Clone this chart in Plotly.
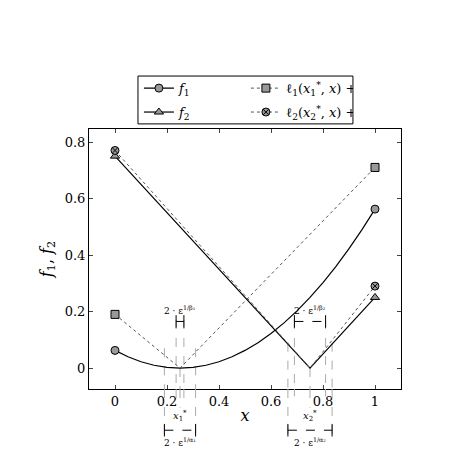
import plotly.graph_objects as go

# sampled curves
xs = [0, 0.05, 0.1, 0.15, 0.2, 0.25, 0.3, 0.35, 0.4, 0.45, 0.5, 0.55, 0.6, 0.65, 0.7, 0.75, 0.8, 0.85, 0.9, 0.95, 1]
f1 = [0.0625, 0.04, 0.0225, 0.01, 0.0025, 0, 0.0025, 0.01, 0.0225, 0.04, 0.0625, 0.09, 0.1225, 0.16, 0.2025, 0.25, 0.3025, 0.36, 0.4225, 0.49, 0.5625]
f2_x = [0, 0.75, 1]
f2 = [0.75, 0, 0.25]
l1_x = [0, 0.25, 1]
l1 = [0.19, 0, 0.71]
l2_x = [0, 0.75, 1]
l2 = [0.77, 0, 0.29]

# guide lines: (x, y_top, y_bottom)
guides = [(0.19, 0.07, -0.25), (0.31, 0.07, -0.25), (0.235, 0.17, -0.12), (0.265, 0.17, -0.12),
          (0.665, 0.09, -0.25), (0.835, 0.09, -0.25), (0.69, 0.17, -0.1), (0.81, 0.17, -0.1),
          (0.75, 0, -0.14), (0.25, 0, -0.14)]
spans = [(0.19, 0.31, -0.22), (0.235, 0.265, 0.165), (0.665, 0.835, -0.22), (0.69, 0.81, 0.165)]
span_labels = ["2 · ε<sup>1/α₁</sup>", "2 · ε<sup>1/β₁</sup>", "2 · ε<sup>1/α₂</sup>", "2 · ε<sup>1/β₂</sup>"]
span_label_y = [-0.262, 0.205, -0.262, 0.205]
ymin, ylow = -0.074, -0.283

fig = go.Figure()
gray = "#999999"
gl = dict(color="#aaaaaa", width=1, dash="dash")
for x, yt, yb in guides:
    fig.add_trace(go.Scatter(x=[x, x], y=[yt, ymin], mode="lines", showlegend=False, line=gl))
    fig.add_trace(go.Scatter(x=[x, x], y=[ymin, yb], mode="lines", showlegend=False, line=gl,
                             xaxis="x2", yaxis="y2"))
for (a, b, y), lab, ly in zip(spans, span_labels, span_label_y):
    ya = "y2" if y < ymin else "y"
    fig.add_trace(go.Scatter(x=[a, b], y=[y, y], mode="lines+markers", showlegend=False,
                             xaxis="x2" if ya == "y2" else "x", yaxis=ya,
                             line=dict(color="black", width=1, dash="dash"),
                             marker=dict(symbol="line-ns", size=9, line=dict(width=1, color="black"))))
    fig.add_annotation(x=(a + b) / 2, y=ly, text=lab, showarrow=False, xref="x", yref=ya,
                       font=dict(size=9, family="DejaVu Serif"))

ln = dict(color="black", width=1.2)
dl = dict(color="#555555", width=1, dash="dot")
mk = lambda s: dict(symbol=s, size=8, color=gray, line=dict(color="black", width=1))

fig.add_trace(go.Scatter(x=xs, y=f1, mode="lines", line=ln, showlegend=False))
fig.add_trace(go.Scatter(x=[xs[0], xs[-1]], y=[f1[0], f1[-1]], mode="markers", marker=mk("circle"), showlegend=False, cliponaxis=False))
fig.add_trace(go.Scatter(x=l1_x, y=l1, mode="lines", line=dl, showlegend=False))
fig.add_trace(go.Scatter(x=[l1_x[0], l1_x[-1]], y=[l1[0], l1[-1]], mode="markers", marker=mk("square"), showlegend=False, cliponaxis=False))
fig.add_trace(go.Scatter(x=f2_x, y=f2, mode="lines", line=ln, showlegend=False))
fig.add_trace(go.Scatter(x=[f2_x[0], f2_x[-1]], y=[f2[0], f2[-1]], mode="markers", marker=mk("triangle-up"), showlegend=False, cliponaxis=False))
fig.add_trace(go.Scatter(x=l2_x, y=l2, mode="lines", line=dl, showlegend=False))
fig.add_trace(go.Scatter(x=[l2_x[0], l2_x[-1]], y=[l2[0], l2[-1]], mode="markers", marker=mk("circle-x"), showlegend=False, cliponaxis=False))

# legend entries
for name, style, sym, lg in [("<i>f</i><sub>1</sub>", ln, "circle", "legend"),
                             ("ℓ<sub>1</sub>(<i>x</i><sub>1</sub><sup>*</sup>, <i>x</i>) + <i>f</i><sub>1</sub>(<i>x</i><sub>1</sub><sup>*</sup>)", dl, "square", "legend"),
                             ("<i>f</i><sub>2</sub>", ln, "triangle-up", "legend2"),
                             ("ℓ<sub>2</sub>(<i>x</i><sub>2</sub><sup>*</sup>, <i>x</i>) + <i>f</i><sub>2</sub>(<i>x</i><sub>2</sub><sup>*</sup>)", dl, "circle-x", "legend2")]:
    fig.add_trace(go.Scatter(x=[None], y=[None], name=name, mode="lines+markers", line=style,
                             marker=mk(sym), legend=lg))

for x, lab in [(0.25, "<i>x</i><sub>1</sub><sup>*</sup>"), (0.75, "<i>x</i><sub>2</sub><sup>*</sup>")]:
    fig.add_annotation(x=x, y=-0.17, xref="x", yref="y2", text=lab, showarrow=False,
                       font=dict(size=10, family="DejaVu Serif"))

leg = dict(orientation="h", x=0.16, xanchor="left", yanchor="middle", entrywidth=62,
           entrywidthmode="pixels", font=dict(size=13), bgcolor="rgba(0,0,0,0)", itemwidth=30)
fig.add_shape(type="rect", xref="paper", yref="paper", x0=0.157, x1=0.846, y0=1.016, y1=1.166,
              line=dict(color="black", width=1))

fig.update_layout(
    width=474, height=474, margin=dict(l=81, r=81, t=121, b=34),
    paper_bgcolor="white", plot_bgcolor="white",
    font=dict(family="DejaVu Serif", color="black", size=13),
    legend=dict(leg, y=1.128), legend2=dict(leg, y=1.053),
    xaxis=dict(range=[-0.1, 1.1], tickvals=[0, 0.2, 0.4, 0.6, 0.8, 1], ticktext=["0", "0.2", "0.4", "0.6", "0.8", "1"],
               ticks="inside", ticklen=4, mirror="ticks", showline=True, linecolor="black", showgrid=False,
               zeroline=False, anchor="y", title=dict(text="<i>x</i>", standoff=2)),
    yaxis=dict(domain=[0.185, 1], range=[ymin, 0.846], tickvals=[0, 0.2, 0.4, 0.6, 0.8],
               ticktext=["0", "0.2", "0.4", "0.6", "0.8"],
               ticks="inside", ticklen=4, mirror="ticks", showline=True, linecolor="black", showgrid=False,
               zeroline=False, title=dict(text="<i>f</i><sub>1</sub>, <i>f</i><sub>2</sub>", standoff=8)),
    xaxis2=dict(matches="x", anchor="y2", visible=False),
    yaxis2=dict(domain=[0, 0.185], range=[ylow, ymin], visible=False),
)
fig.write_html("out.html")
